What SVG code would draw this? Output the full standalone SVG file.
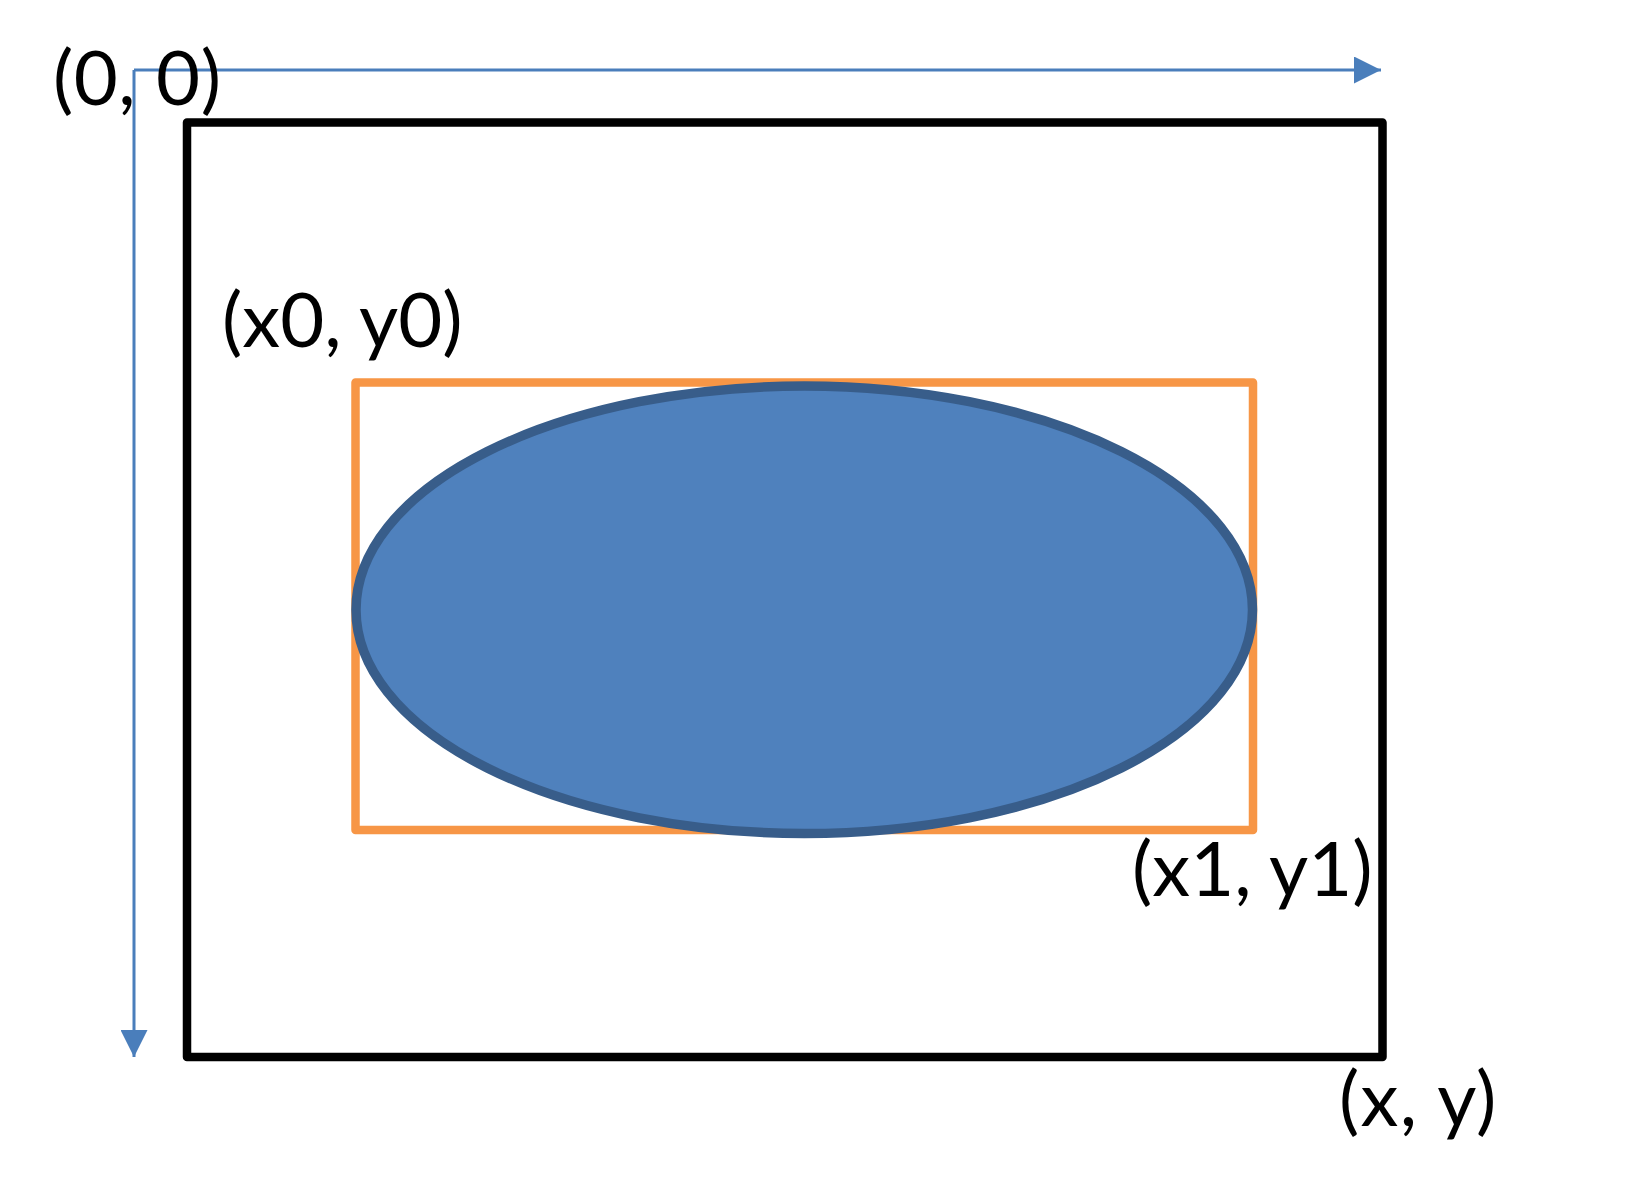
<svg xmlns="http://www.w3.org/2000/svg" width="1642" height="1199" viewBox="0 0 1642 1199">
  <defs>
    <style>
      .lbl { font-family: Lato, "Open Sans", "Liberation Sans", sans-serif; font-size: 76px; fill: #000000; }
      .axis { stroke: #4A7EBB; stroke-width: 3; fill: none; }
    </style>
    <marker id="arrow" markerUnits="userSpaceOnUse" viewBox="0 0 27 27" markerWidth="27" markerHeight="27" refX="27" refY="13.5" orient="auto">
      <path d="M0,0 L27,13.5 L0,27 Z" fill="#4A7EBB"/>
    </marker>
  </defs>
  <rect width="1642" height="1199" fill="#ffffff"/>
  <g id="image-frame">
    <rect x="187" y="122.5" width="1195.5" height="934.5" fill="none" stroke="#000000" stroke-width="8.5" stroke-linejoin="round"/>
  </g>
  <g id="bounding-box">
    <rect x="355.5" y="382.5" width="897.5" height="447.5" fill="none" stroke="#F79646" stroke-width="8.5" stroke-linejoin="round"/>
  </g>
  <g id="ellipse">
    <ellipse cx="804.25" cy="609.75" rx="448.25" ry="223.75" fill="#4F81BD" stroke="#385D8A" stroke-width="9.5"/>
  </g>
  <g id="connectors">
    <line class="axis" x1="134" y1="70" x2="1381" y2="70" marker-end="url(#arrow)"/>
    <line class="axis" x1="134" y1="70" x2="134" y2="1057" marker-end="url(#arrow)"/>
  </g>
  <g id="label-origin">
    <text class="lbl" x="53" y="104.5" letter-spacing="0.5">(0, 0)</text>
  </g>
  <g id="label-x0y0">
    <text class="lbl" x="222" y="346.7">(x0, y0)</text>
  </g>
  <g id="label-x1y1">
    <text class="lbl" x="1132" y="895.7">(x1, y1)</text>
  </g>
  <g id="label-xy">
    <text class="lbl" x="1339" y="1126" letter-spacing="1.3">(x, y)</text>
  </g>
</svg>
